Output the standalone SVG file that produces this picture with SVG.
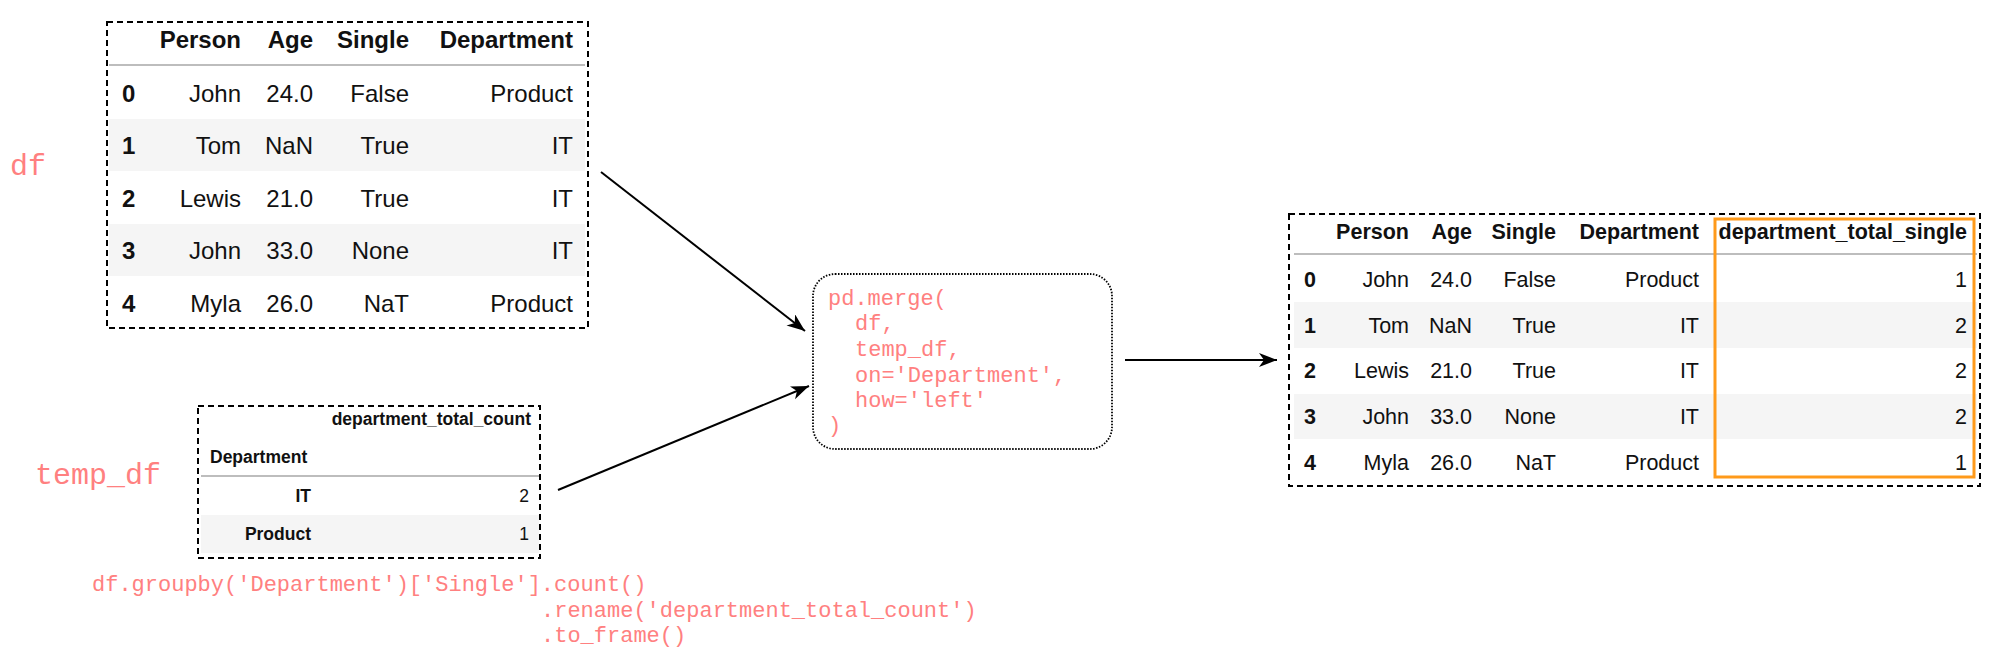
<svg xmlns="http://www.w3.org/2000/svg" width="2000" height="665" viewBox="0 0 2000 665">
<defs>
<style>
.t{font-family:"Liberation Sans",Arial,sans-serif;fill:#111}
.b{font-weight:bold}
.r{text-anchor:end}
.code{font-family:"Liberation Mono","Courier New",monospace;fill:#ff8080}
.box{fill:none;stroke:#000;stroke-width:2;stroke-dasharray:6 4}
.band{fill:#f5f5f5}
.rule{stroke:#bdbdbd;stroke-width:2}
.edge{fill:none;stroke:#000;stroke-width:2}
</style>
<marker id="arr" markerUnits="userSpaceOnUse" markerWidth="20" markerHeight="16" refX="18" refY="7" orient="auto">
<path d="M0,0 L18,7 L0,14 L5,7 Z" fill="#000"/>
</marker>
</defs>
<rect width="2000" height="665" fill="#fff"/>

<g id="df-label"><text class="code" x="10" y="175" font-size="30">df</text></g>
<g id="temp_df-label"><text class="code" x="35" y="484" font-size="30">temp_df</text></g>

<g id="df" class="t">
<rect class="band" x="109" y="119" width="476" height="52"/>
<rect class="band" x="109" y="224" width="476" height="52"/>
<line class="rule" x1="109" y1="65" x2="585" y2="65"/>
<g font-size="24">
<g class="b r"><text x="241" y="48">Person</text><text x="313" y="48">Age</text><text x="409" y="48">Single</text><text x="573" y="48">Department</text></g>
<g class="b"><text x="122" y="102">0</text><text x="122" y="154">1</text><text x="122" y="207">2</text><text x="122" y="259">3</text><text x="122" y="312">4</text></g>
<g class="r">
<text x="241" y="102">John</text><text x="313" y="102">24.0</text><text x="409" y="102">False</text><text x="573" y="102">Product</text>
<text x="241" y="154">Tom</text><text x="313" y="154">NaN</text><text x="409" y="154">True</text><text x="573" y="154">IT</text>
<text x="241" y="207">Lewis</text><text x="313" y="207">21.0</text><text x="409" y="207">True</text><text x="573" y="207">IT</text>
<text x="241" y="259">John</text><text x="313" y="259">33.0</text><text x="409" y="259">None</text><text x="573" y="259">IT</text>
<text x="241" y="312">Myla</text><text x="313" y="312">26.0</text><text x="409" y="312">NaT</text><text x="573" y="312">Product</text>
</g>
</g>
<rect class="box" x="107" y="22" width="481" height="306"/>
</g>

<g id="temp_df" class="t">
<rect class="band" x="201" y="515" width="338" height="38"/>
<line class="rule" x1="201" y1="476" x2="539" y2="476"/>
<g font-size="17.5">
<text class="b r" x="531" y="425">department_total_count</text>
<text class="b" x="210" y="463">Department</text>
<text class="b r" x="311" y="502">IT</text><text class="r" x="529" y="502">2</text>
<text class="b r" x="311" y="540">Product</text><text class="r" x="529" y="540">1</text>
</g>
<rect class="box" x="198" y="406" width="342" height="152"/>
</g>

<g id="groupby-code" class="code" font-size="22">
<text x="92" y="591">df.groupby('Department')['Single'].count()</text>
<text x="541" y="617">.rename('department_total_count')</text>
<text x="541" y="642">.to_frame()</text>
</g>

<g id="merge">
<rect x="813" y="274" width="299" height="175" rx="22" ry="22" fill="none" stroke="#000" stroke-width="1.8" stroke-dasharray="1.5 1.5"/>
<g class="code" font-size="22">
<text x="828" y="305">pd.merge(</text>
<text x="855" y="330">df,</text>
<text x="855" y="356">temp_df,</text>
<text x="855" y="382">on='Department',</text>
<text x="855" y="407">how='left'</text>
<text x="828" y="432">)</text>
</g>
</g>

<g id="result" class="t">
<rect class="band" x="1294" y="302" width="683" height="46"/>
<rect class="band" x="1294" y="394" width="683" height="45"/>
<line class="rule" x1="1294" y1="254" x2="1977" y2="254"/>
<g font-size="21.5">
<g class="b r"><text x="1409" y="239">Person</text><text x="1472" y="239">Age</text><text x="1556" y="239">Single</text><text x="1699" y="239">Department</text><text x="1967" y="239">department_total_single</text></g>
<g class="b"><text x="1304" y="287">0</text><text x="1304" y="333">1</text><text x="1304" y="378">2</text><text x="1304" y="424">3</text><text x="1304" y="470">4</text></g>
<g class="r">
<text x="1409" y="287">John</text><text x="1472" y="287">24.0</text><text x="1556" y="287">False</text><text x="1699" y="287">Product</text><text x="1967" y="287">1</text>
<text x="1409" y="333">Tom</text><text x="1472" y="333">NaN</text><text x="1556" y="333">True</text><text x="1699" y="333">IT</text><text x="1967" y="333">2</text>
<text x="1409" y="378">Lewis</text><text x="1472" y="378">21.0</text><text x="1556" y="378">True</text><text x="1699" y="378">IT</text><text x="1967" y="378">2</text>
<text x="1409" y="424">John</text><text x="1472" y="424">33.0</text><text x="1556" y="424">None</text><text x="1699" y="424">IT</text><text x="1967" y="424">2</text>
<text x="1409" y="470">Myla</text><text x="1472" y="470">26.0</text><text x="1556" y="470">NaT</text><text x="1699" y="470">Product</text><text x="1967" y="470">1</text>
</g>
</g>
<rect x="1715" y="219" width="259" height="258" fill="none" stroke="#ff9a1a" stroke-width="3"/>
<rect class="box" x="1289" y="214" width="691" height="272"/>
</g>

<g id="connectors">
<line class="edge" x1="601" y1="172" x2="805" y2="331" marker-end="url(#arr)"/>
<line class="edge" x1="558" y1="490" x2="809" y2="386" marker-end="url(#arr)"/>
<line class="edge" x1="1125" y1="360" x2="1277" y2="360" marker-end="url(#arr)"/>
</g>
</svg>
